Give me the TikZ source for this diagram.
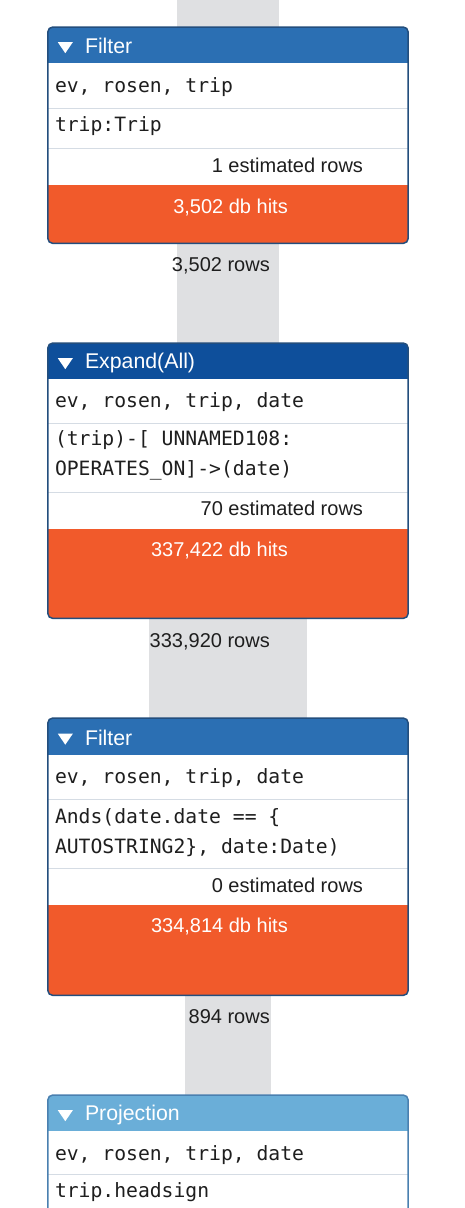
\documentclass[tikz,border=0pt]{standalone}
\usepackage{fontspec}
\setmainfont{Liberation Sans}
\setmonofont{DejaVu Sans Mono}
\usetikzlibrary{positioning,calc}
\pgfdeclarelayer{background}
\pgfsetlayers{background,main}

\definecolor{filterblue}{HTML}{2B6FB3}
\definecolor{expandblue}{HTML}{0E4F9B}
\definecolor{projblue}{HTML}{6AAED8}
\definecolor{hitorange}{HTML}{F15A2B}
\definecolor{flowgray}{HTML}{DFE0E2}
\definecolor{sepgray}{HTML}{D5DCE4}
\definecolor{edgeblue}{HTML}{234E7D}
\definecolor{projedge}{HTML}{4A80B0}
\definecolor{inkgray}{HTML}{1E1E1E}

\tikzset{
  opbox/.style={rectangle,anchor=north,minimum width=360pt,inner sep=0pt},
  band/.style={rectangle,anchor=north,minimum width=360pt,inner sep=0pt},
  boxline/.style={draw=edgeblue,line width=1.5pt,rounded corners=5pt},
  sepline/.style={draw=sepgray,line width=1pt},
  flow/.style={draw=flowgray},
  optitle/.style={inner sep=0pt,anchor=base west,text=white,font=\fontsize{21.3}{25}\selectfont},
  idtext/.style={inner sep=0pt,anchor=base west,text=inkgray,align=left,font=\ttfamily\fontsize{19.7}{30}\selectfont},
  esttext/.style={inner sep=0pt,anchor=base east,text=inkgray,font=\fontsize{20}{24}\selectfont},
  hittext/.style={inner sep=0pt,anchor=base east,text=white,font=\fontsize{20}{24}\selectfont},
  rowtext/.style={inner sep=0pt,anchor=base east,text=inkgray,font=\fontsize{20}{24}\selectfont}
}

\begin{document}
\begin{tikzpicture}[x=1pt,y=-1pt]
        \clip (0,0) rectangle (464,1208);
        \coordinate (flowtop) at (228,0);

        \node[opbox,minimum height=216pt] (filter1) at (228,27) {};
        \begin{scope}
                \clip[rounded corners=5pt] (filter1.north west) rectangle (filter1.south east);
                \node[band,fill=filterblue,minimum height=36pt] (filter1-head) at (filter1.north) {};
                \node[band,fill=white,minimum height=45pt] (filter1-vars) at (filter1-head.south) {};
                \node[band,fill=white,minimum height=39pt] (filter1-expr) at (filter1-vars.south) {};
                \node[band,fill=white,minimum height=36pt] (filter1-est) at (filter1-expr.south) {};
                \node[band,fill=hitorange,minimum height=60pt] (filter1-hits) at (filter1-est.south) {};
        \end{scope}
        \draw[sepline] (filter1-vars.south west) -- (filter1-vars.south east);
        \draw[sepline] (filter1-expr.south west) -- (filter1-expr.south east);
        \draw[boxline] (filter1.north west) rectangle (filter1.south east);
        \fill[white] ($(filter1-head.west)+(10,-3)$) -- ++(15,0) -- ++(-7.5,11) -- cycle;
        \node[optitle] (filter1-title) at ($(filter1-head.north west)+(37,26)$) {Filter};
        \node[idtext] (filter1-varstext) at ($(filter1-vars.north west)+(7,29)$) {ev, rosen, trip};
        \node[idtext] (filter1-exprtext) at ($(filter1-expr.north west)+(7,23)$) {trip:Trip};
        \node[esttext] (filter1-esttext) at ($(filter1-est.north east)+(-45,24)$) {1 estimated rows};
        \node[hittext] (filter1-hittext) at ($(filter1-hits.north)+(60,28.5)$) {3,502 db hits};
        \node[rowtext] (filter1-rows) at ($(filter1.south)+(42,28)$) {3,502 rows};

        \node[opbox,minimum height=275pt] (expand) at (228,343) {};
        \begin{scope}
                \clip[rounded corners=5pt] (expand.north west) rectangle (expand.south east);
                \node[band,fill=expandblue,minimum height=36pt] (expand-head) at (expand.north) {};
                \node[band,fill=white,minimum height=44pt] (expand-vars) at (expand-head.south) {};
                \node[band,fill=white,minimum height=68pt] (expand-expr) at (expand-vars.south) {};
                \node[band,fill=white,minimum height=36pt] (expand-est) at (expand-expr.south) {};
                \node[band,fill=hitorange,minimum height=91pt] (expand-hits) at (expand-est.south) {};
        \end{scope}
        \draw[sepline] (expand-vars.south west) -- (expand-vars.south east);
        \draw[sepline] (expand-expr.south west) -- (expand-expr.south east);
        \draw[boxline] (expand.north west) rectangle (expand.south east);
        \fill[white] ($(expand-head.west)+(10,-3)$) -- ++(15,0) -- ++(-7.5,11) -- cycle;
        \node[optitle] (expand-title) at ($(expand-head.north west)+(37,25)$) {Expand(All)};
        \node[idtext] (expand-varstext) at ($(expand-vars.north west)+(7,28)$) {ev, rosen, trip, date};
        \node[idtext] (expand-exprtext) at ($(expand-expr.north west)+(7,52)$) {(trip)-[ UNNAMED108:\\OPERATES\_ON]->(date)};
        \node[esttext] (expand-esttext) at ($(expand-est.north east)+(-45,23)$) {70 estimated rows};
        \node[hittext] (expand-hittext) at ($(expand-hits.north)+(60,28)$) {337,422 db hits};
        \node[rowtext] (expand-rows) at ($(expand.south)+(42,29)$) {333,920 rows};

        \node[opbox,minimum height=277pt] (filter2) at (228,718) {};
        \begin{scope}
                \clip[rounded corners=5pt] (filter2.north west) rectangle (filter2.south east);
                \node[band,fill=filterblue,minimum height=37pt] (filter2-head) at (filter2.north) {};
                \node[band,fill=white,minimum height=44pt] (filter2-vars) at (filter2-head.south) {};
                \node[band,fill=white,minimum height=68pt] (filter2-expr) at (filter2-vars.south) {};
                \node[band,fill=white,minimum height=36pt] (filter2-est) at (filter2-expr.south) {};
                \node[band,fill=hitorange,minimum height=92pt] (filter2-hits) at (filter2-est.south) {};
        \end{scope}
        \draw[sepline] (filter2-vars.south west) -- (filter2-vars.south east);
        \draw[sepline] (filter2-expr.south west) -- (filter2-expr.south east);
        \draw[boxline] (filter2.north west) rectangle (filter2.south east);
        \fill[white] ($(filter2-head.west)+(10,-3)$) -- ++(15,0) -- ++(-7.5,11) -- cycle;
        \node[optitle] (filter2-title) at ($(filter2-head.north west)+(37,27)$) {Filter};
        \node[idtext] (filter2-varstext) at ($(filter2-vars.north west)+(7,28)$) {ev, rosen, trip, date};
        \node[idtext] (filter2-exprtext) at ($(filter2-expr.north west)+(7,54)$) {Ands(date.date == \{\\AUTOSTRING2\}, date:Date)};
        \node[esttext] (filter2-esttext) at ($(filter2-est.north east)+(-45,24)$) {0 estimated rows};
        \node[hittext] (filter2-hittext) at ($(filter2-hits.north)+(60,28)$) {334,814 db hits};
        \node[rowtext] (filter2-rows) at ($(filter2.south)+(42,28)$) {894 rows};

        \node[opbox,minimum height=200pt] (projection) at (228,1095) {};
        \begin{scope}
                \clip[rounded corners=5pt] (projection.north west) rectangle (projection.south east);
                \node[band,fill=projblue,minimum height=36pt] (projection-head) at (projection.north) {};
                \node[band,fill=white,minimum height=43pt] (projection-vars) at (projection-head.south) {};
                \node[band,fill=white,minimum height=121pt] (projection-expr) at (projection-vars.south) {};
        \end{scope}
        \draw[sepline] (projection-vars.south west) -- (projection-vars.south east);
        \draw[boxline,draw=projedge] (projection.north west) rectangle (projection.south east);
        \fill[white] ($(projection-head.west)+(10,-3)$) -- ++(15,0) -- ++(-7.5,11) -- cycle;
        \node[optitle] (projection-title) at ($(projection-head.north west)+(37,25)$) {Projection};
        \node[idtext] (projection-varstext) at ($(projection-vars.north west)+(7,29)$) {ev, rosen, trip, date};
        \node[idtext] (projection-exprtext) at ($(projection-expr.north west)+(7,23)$) {trip.headsign};

        \begin{pgfonlayer}{background}
                \draw[flow,line width=102pt] (flowtop) -- (filter1.north);
                \draw[flow,line width=102pt] (filter1.south) -- (expand.north);
                \draw[flow,line width=158pt] (expand.south) -- (filter2.north);
                \draw[flow,line width=86pt] (filter2.south) -- (projection.north);
        \end{pgfonlayer}
    \end{tikzpicture}
\end{document}
